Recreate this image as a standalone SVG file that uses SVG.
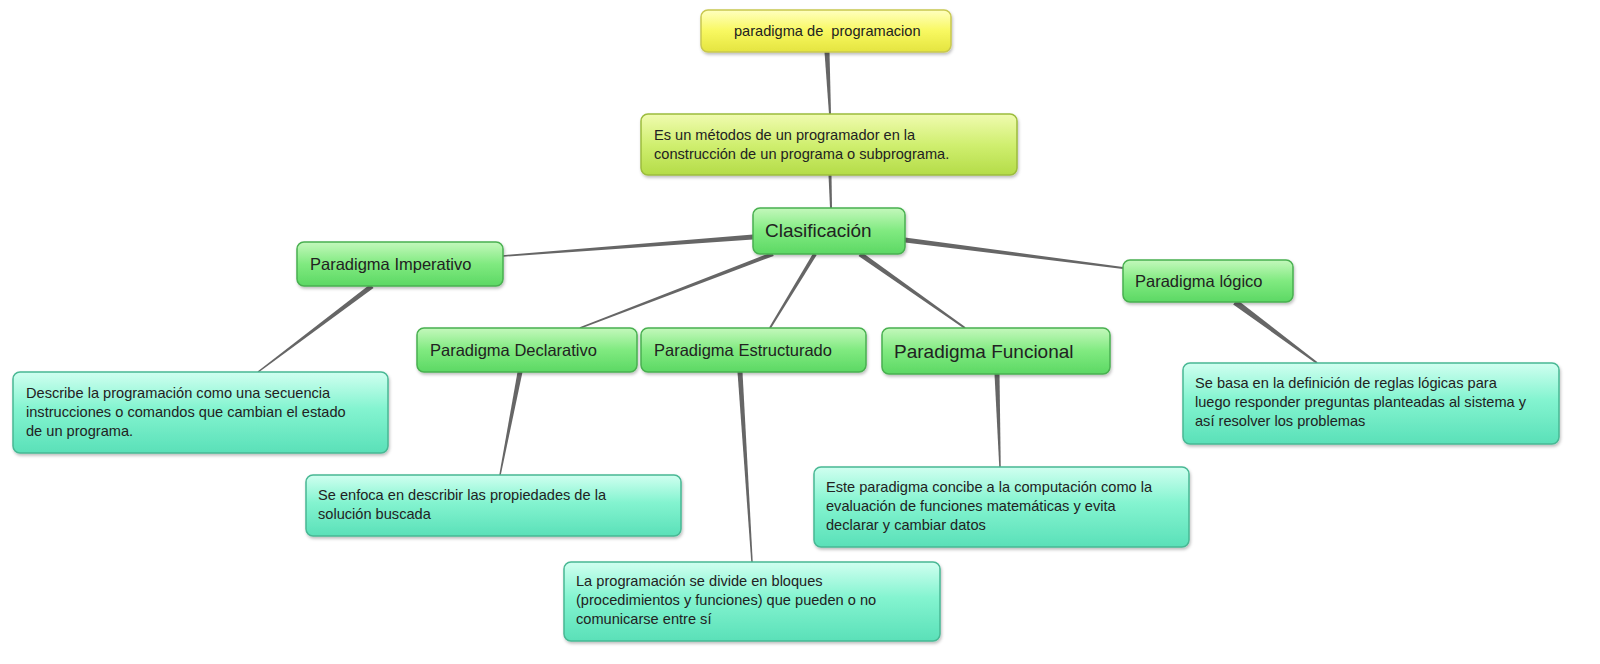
<svg xmlns="http://www.w3.org/2000/svg" width="1600" height="664" viewBox="0 0 1600 664">
<defs>
<linearGradient id="gy" x1="0" y1="0" x2="0" y2="1"><stop offset="0" stop-color="#ffffc0"/><stop offset="0.5" stop-color="#f8f860"/><stop offset="1" stop-color="#e4e440"/></linearGradient>
<linearGradient id="gl" x1="0" y1="0" x2="0" y2="1"><stop offset="0" stop-color="#f0fbb0"/><stop offset="0.5" stop-color="#d0ef70"/><stop offset="1" stop-color="#b4dc48"/></linearGradient>
<linearGradient id="gg" x1="0" y1="0" x2="0" y2="1"><stop offset="0" stop-color="#c4f8bc"/><stop offset="0.5" stop-color="#80ea80"/><stop offset="1" stop-color="#5cd864"/></linearGradient>
<linearGradient id="gt" x1="0" y1="0" x2="0" y2="1"><stop offset="0" stop-color="#d0fff0"/><stop offset="0.45" stop-color="#84f4d0"/><stop offset="1" stop-color="#5ae0b8"/></linearGradient>
<filter id="sh" x="-5%" y="-10%" width="110%" height="130%"><feDropShadow dx="1" dy="2" stdDeviation="1.5" flood-color="#000" flood-opacity="0.25"/></filter>
</defs>
<style>
text{font-family:"Liberation Sans",Arial,sans-serif;fill:#222;white-space:pre}
.y{fill:url(#gy);stroke:#c8c850;stroke-width:1.5;filter:url(#sh)}
.l{fill:url(#gl);stroke:#9cbc3c;stroke-width:1.5;filter:url(#sh)}
.g{fill:url(#gg);stroke:#48b050;stroke-width:1.5;filter:url(#sh)}
.t{fill:url(#gt);stroke:#48b894;stroke-width:1.5;filter:url(#sh)}
.c polygon{fill:#666}
.s{font-size:14.6px}
.m{font-size:16.5px}
.b{font-size:19px}
</style>
<rect width="1600" height="664" fill="#fff"/>
<g class="c" id="connectors">
<polygon points="824.5,52 829.5,52 831,114 829,114"/>
<polygon points="828.5,175 831.5,175 832,208 830,208"/>
<polygon points="753,234.5 753,239.5 503,256.8 503,255.2"/>
<polygon points="772.3,252.1 773.7,255.9 580.3,328.7 579.7,327.3"/>
<polygon points="816.7,255 813.3,253 769.15,327.5 770.85,328.5"/>
<polygon points="858.55,256.05 861.45,251.95 965.6,327.2 964.4,328.8"/>
<polygon points="905,237.5 905,242.5 1123,269 1123,267"/>
<polygon points="373.5,288 370.5,284 257.55,371.4 258.45,372.6"/>
<polygon points="517.5,372 522.5,372 500.75,475 499.25,475"/>
<polygon points="737.5,372 742.5,372 752.75,562 751.25,562"/>
<polygon points="994.5,374 999.5,374 1000.75,467 999.25,467"/>
<polygon points="1233.2,304.4 1236.8,299.6 1317.6,362.2 1316.4,363.8"/>
</g>
<g id="n-top"><rect class="y" x="701" y="10" width="250" height="42" rx="7"/><text class="s" x="734" y="36" xml:space="preserve">paradigma de  programacion</text></g>
<g id="n-def"><rect class="l" x="641" y="114" width="376" height="61" rx="7"/><text class="s" x="654" y="140">Es un métodos de un programador en la</text><text class="s" x="654" y="159">construcción de un programa o subprograma.</text></g>
<g id="n-clas"><rect class="g" x="753" y="208" width="152" height="46" rx="7"/><text class="b" x="765" y="237">Clasificación</text></g>
<g id="n-imp"><rect class="g" x="297" y="242" width="206" height="44" rx="7"/><text class="m" x="310" y="270">Paradigma Imperativo</text></g>
<g id="n-dec"><rect class="g" x="417" y="328" width="220" height="44" rx="7"/><text class="m" x="430" y="356">Paradigma Declarativo</text></g>
<g id="n-est"><rect class="g" x="641" y="328" width="225" height="44" rx="7"/><text class="m" x="654" y="356">Paradigma Estructurado</text></g>
<g id="n-fun"><rect class="g" x="882" y="328" width="228" height="46" rx="7"/><text class="b" x="894" y="358">Paradigma Funcional</text></g>
<g id="n-log"><rect class="g" x="1123" y="260" width="170" height="42" rx="7"/><text class="m" x="1135" y="287">Paradigma lógico</text></g>
<g id="d-imp"><rect class="t" x="13" y="372" width="375" height="81" rx="7"/><text class="s" x="26" y="398">Describe la programación como una secuencia</text><text class="s" x="26" y="417">instrucciones o comandos que cambian el estado</text><text class="s" x="26" y="436">de un programa.</text></g>
<g id="d-dec"><rect class="t" x="306" y="475" width="375" height="61" rx="7"/><text class="s" x="318" y="500">Se enfoca en describir las propiedades de la</text><text class="s" x="318" y="519">solución buscada</text></g>
<g id="d-est"><rect class="t" x="564" y="562" width="376" height="79" rx="7"/><text class="s" x="576" y="586">La programación se divide en bloques</text><text class="s" x="576" y="605">(procedimientos y funciones) que pueden o no</text><text class="s" x="576" y="624">comunicarse entre sí</text></g>
<g id="d-fun"><rect class="t" x="814" y="467" width="375" height="80" rx="7"/><text class="s" x="826" y="492">Este paradigma concibe a la computación como la</text><text class="s" x="826" y="511">evaluación de funciones matemáticas y evita</text><text class="s" x="826" y="530">declarar y cambiar datos</text></g>
<g id="d-log"><rect class="t" x="1183" y="363" width="376" height="81" rx="7"/><text class="s" x="1195" y="388">Se basa en la definición de reglas lógicas para</text><text class="s" x="1195" y="407">luego responder preguntas planteadas al sistema y</text><text class="s" x="1195" y="426">así resolver los problemas</text></g>
</svg>
